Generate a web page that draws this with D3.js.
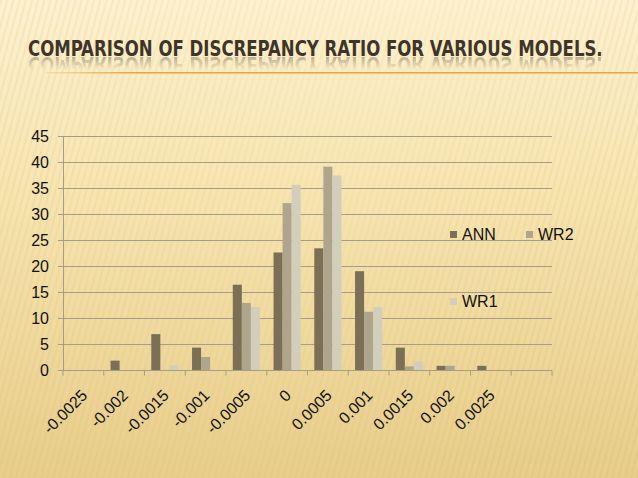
<!DOCTYPE html>
<html>
<head>
<meta charset="utf-8">
<script src="https://cdn.jsdelivr.net/npm/d3@7"></script>
<style>
  html, body { margin: 0; padding: 0; background: #f6e6b6; }
  svg { display: block; }
</style>
</head>
<body>
<svg id="chart"></svg>
<script>
// Chart data
var categories = ["-0.0025", "-0.002", "-0.0015", "-0.001", "-0.0005", "0",
                  "0.0005", "0.001", "0.0015", "0.002", "0.0025", ""];
var seriesNames = ["ANN", "WR2", "WR1"];
var ann = [0, 1.8, 6.9, 4.3, 16.4, 22.6, 23.4, 19.0, 4.3, 0.8, 0.8, 0];
var wr2 = [0, 0, 0, 2.5, 12.9, 32.1, 39.1, 11.2, 0.7, 0.8, 0, 0];
var wr1 = [0, 0, 0.9, 0, 12.1, 35.6, 37.4, 12.1, 1.7, 0, 0, 0];
var yTicks = [0, 5, 10, 15, 20, 25, 30, 35, 40, 45];
var colors = ["#7b6f56", "#afa58d", "#d3cebc"];
var title = "COMPARISON OF DISCREPANCY RATIO FOR VARIOUS MODELS.";

var W = 638, H = 478;
var svg = d3.select("#chart").attr("width", W).attr("height", H);
var defs = svg.append("defs");

// slide background: cream gradient with faint stripes
var bg = defs.append("linearGradient").attr("id", "bg")
    .attr("x1", 0).attr("y1", 0).attr("x2", 0).attr("y2", 1);
bg.append("stop").attr("offset", "0%").attr("stop-color", "#fdf1cf");
bg.append("stop").attr("offset", "40%").attr("stop-color", "#f7e5b0");
bg.append("stop").attr("offset", "100%").attr("stop-color", "#e8cd8a");

var stripes = defs.append("pattern").attr("id", "stripes")
    .attr("width", 6).attr("height", 6)
    .attr("patternUnits", "userSpaceOnUse")
    .attr("patternTransform", "rotate(15)");
stripes.append("rect").attr("width", 2).attr("height", 6)
    .attr("fill", "#c9a55a").attr("opacity", 0.14);

var fade = defs.append("linearGradient").attr("id", "fade")
    .attr("x1", 0).attr("y1", 0).attr("x2", 1).attr("y2", 0.3);
fade.append("stop").attr("offset", "0%").attr("stop-color", "#fff").attr("stop-opacity", 0.9);
fade.append("stop").attr("offset", "60%").attr("stop-color", "#fff").attr("stop-opacity", 0.35);
fade.append("stop").attr("offset", "100%").attr("stop-color", "#fff").attr("stop-opacity", 0.9);
var mask = defs.append("mask").attr("id", "stripeMask");
mask.append("rect").attr("width", W).attr("height", H).attr("fill", "url(#fade)");

svg.append("rect").attr("width", W).attr("height", H).attr("fill", "url(#bg)");
svg.append("rect").attr("width", W).attr("height", H).attr("fill", "url(#stripes)")
    .attr("mask", "url(#stripeMask)");

// title: tall condensed caps, squeezed horizontally to the slide's width
var titleFont = "'Liberation Sans Narrow', 'DejaVu Sans Condensed', sans-serif";
var titleText = svg.append("text")
    .attr("id", "title")
    .attr("x", 0).attr("y", 0)
    .style("font-family", titleFont).style("font-size", "21px")
    .style("font-weight", "bold")
    .attr("fill", "#3d3529")
    .text(title);
var tw = titleText.node().getComputedTextLength();
titleText.attr("transform", "translate(28,56) scale(" + (575 / tw).toFixed(4) + ",1)");

// faint reflection below the title (reuses the same text)
var reflFade = defs.append("linearGradient").attr("id", "reflFade")
    .attr("gradientUnits", "userSpaceOnUse")
    .attr("x1", 0).attr("x2", 0).attr("y1", 56).attr("y2", 70);
reflFade.append("stop").attr("offset", "0%").attr("stop-color", "#fff").attr("stop-opacity", 0.35);
reflFade.append("stop").attr("offset", "100%").attr("stop-color", "#fff").attr("stop-opacity", 0);
defs.append("mask").attr("id", "reflMask")
    .attr("maskUnits", "userSpaceOnUse")
    .attr("x", 0).attr("y", 0).attr("width", W).attr("height", H)
    .append("rect").attr("x", 0).attr("y", 56).attr("width", W).attr("height", 16)
    .attr("fill", "url(#reflFade)");
svg.append("g").attr("mask", "url(#reflMask)")
    .append("use").attr("href", "#title")
    .attr("transform", "translate(0,113) scale(1,-1)");

var rule = defs.append("linearGradient").attr("id", "rule");
rule.append("stop").attr("offset", "0%").attr("stop-color", "#eaa540").attr("stop-opacity", 0.2);
rule.append("stop").attr("offset", "15%").attr("stop-color", "#e9a43c");
rule.append("stop").attr("offset", "100%").attr("stop-color", "#e9a43c");
svg.append("rect").attr("x", 46).attr("y", 72).attr("width", W - 46).attr("height", 1.5)
    .attr("fill", "url(#rule)");

// chart area
var plot = { left: 63, right: 552, top: 136, bottom: 370 };
var labelFont = "'Liberation Sans', Arial, sans-serif";

var x = d3.scaleBand().domain(d3.range(categories.length))
    .range([plot.left, plot.right]).paddingInner(0).paddingOuter(0);
var inner = d3.scaleBand().domain(seriesNames)
    .range([0, x.bandwidth()]).paddingInner(0).paddingOuter(0.75);
var y = d3.scaleLinear().domain([0, 45]).range([plot.bottom, plot.top]);

// gridlines
svg.append("g").selectAll("line").data(yTicks.slice(1)).enter().append("line")
    .attr("x1", plot.left).attr("x2", plot.right)
    .attr("y1", function(d){ return Math.round(y(d)) + 0.5; })
    .attr("y2", function(d){ return Math.round(y(d)) + 0.5; })
    .attr("stroke", "#a59d8a").attr("stroke-width", 1);

// y axis
var yAxis = svg.append("g").attr("transform", "translate(" + plot.left + ",0)")
    .call(d3.axisLeft(y).tickValues(yTicks).tickSize(5).tickPadding(9));
yAxis.select(".domain").attr("stroke", "#a59d8a");
yAxis.selectAll(".tick line").attr("stroke", "#a59d8a");
yAxis.selectAll("text").style("font-family", labelFont)
    .style("font-size", "16px").attr("fill", "#111");

// x axis
var xAxis = svg.append("g").attr("transform", "translate(0," + (Math.round(plot.bottom) + 0.5) + ")");
xAxis.append("line").attr("x1", plot.left).attr("x2", plot.right)
    .attr("stroke", "#a59d8a");
xAxis.selectAll("line.tk").data(d3.range(categories.length + 1)).enter().append("line")
    .attr("class", "tk")
    .attr("x1", function(i){ return i < categories.length ? x(i) : plot.right; })
    .attr("x2", function(i){ return i < categories.length ? x(i) : plot.right; })
    .attr("y1", 0).attr("y2", 5)
    .attr("stroke", "#a59d8a");
xAxis.selectAll("text").data(categories).enter().append("text")
    .attr("transform", function(d, i){
        return "translate(" + (x(i) + x.bandwidth() / 2 + 1) + ",22) rotate(-45)";
    })
    .attr("text-anchor", "end")
    .attr("dy", "0.35em")
    .style("font-family", labelFont)
    .style("font-size", "16px").attr("fill", "#111")
    .text(function(d){ return d; });

// bars
var series = [ann, wr2, wr1];
series.forEach(function(vals, s){
    svg.append("g").selectAll("rect").data(vals).enter().append("rect")
        .attr("x", function(d, i){ return x(i) + inner(seriesNames[s]); })
        .attr("width", inner.bandwidth())
        .attr("y", function(d){ return y(d); })
        .attr("height", function(d){ return y(0) - y(d); })
        .attr("fill", colors[s]);
});

// legend
var legendPos = [[450, 240], [526, 240], [450, 307]];
var legend = svg.append("g");
seriesNames.forEach(function(name, s){
    var p = legendPos[s];
    legend.append("rect").attr("x", p[0]).attr("y", p[1] - 9)
        .attr("width", 7).attr("height", 7).attr("fill", colors[s]);
    legend.append("text").attr("x", p[0] + 12).attr("y", p[1])
        .style("font-family", labelFont)
        .style("font-size", "16px").attr("fill", "#111")
        .text(name);
});
</script>
</body>
</html>
